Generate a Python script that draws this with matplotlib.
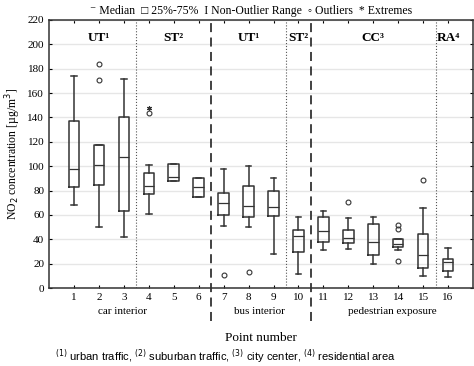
import matplotlib.pyplot as plt

plt.rcParams['font.family'] = ['Liberation Serif', 'DejaVu Serif', 'DejaVu Sans']

points = list(range(1, 17))
q1 = [82.5, 84.7, 63.3, 77.0, 87.7, 74.6, 60.0, 58.4, 59.2, 29.3, 38.1, 36.7, 27.4, 34.0, 16.7, 14.2]
med = [97.9, 100.6, 107.7, 84.1, 91.5, 82.8, 69.9, 67.7, 66.6, 42.8, 47.1, 41.4, 38.1, 36.2, 27.1, 21.7]
q3 = [136.8, 117.0, 140.0, 94.3, 101.7, 89.9, 77.9, 83.9, 79.5, 47.7, 58.6, 47.7, 52.4, 40.0, 44.4, 23.6]
wlo = [68.5, 49.9, 42.2, 61.0, 87.7, 74.6, 51.0, 50.4, 28.0, 11.2, 31.2, 32.3, 19.5, 31.2, 10.1, 9.3]
whi = [173.8, 117.0, 171.6, 100.9, 101.7, 89.9, 97.6, 99.8, 90.7, 58.6, 63.3, 57.3, 58.6, 40.0, 65.5, 32.6]
outliers = [[], [183.7, 171.0], [], [144.0], [], [], [10.7], [12.9], [], [], [],
            [70.2], [], [51.8, 48.5, 22.5], [88.3], []]
extremes = [[], [], [], [147.8], [], [], [], [], [], [], [], [], [], [], [], []]

groups = ['UT¹', 'ST²', 'UT¹', 'ST²', 'CC³', 'RA⁴']
group_x = [2, 5, 8, 10, 13, 16]
exposure = ['car interior', 'bus interior', 'pedestrian exposure']
exposure_x = [2.95, 8.45, 13.75]

fig = plt.figure(figsize=(4.74, 3.66), dpi=100)
ax = fig.add_axes([0.1034, 0.2131, 0.8946, 0.7323])

stats = []
for i in range(len(points)):
    stats.append(dict(med=med[i], q1=q1[i], q3=q3[i], whislo=wlo[i], whishi=whi[i],
                      fliers=outliers[i]))

lc = '#333333'
ax.bxp(stats, positions=points, widths=0.42, patch_artist=False,
       boxprops=dict(color=lc, linewidth=1.1),
       medianprops=dict(color=lc, linewidth=0.9),
       whiskerprops=dict(color=lc, linewidth=1.1),
       capprops=dict(color=lc, linewidth=1.1), capwidths=0.22,
       flierprops=dict(marker='o', markersize=3.5, markerfacecolor='none',
                       markeredgecolor=lc, markeredgewidth=0.8))
for i, ex in enumerate(extremes):
    if ex:
        ax.plot([points[i]] * len(ex), ex, linestyle='none', marker=(6, 2, 0), markersize=3.5,
                color=lc, markeredgewidth=0.8)

ax.set_xlim(0, 17)
ax.set_ylim(0, 220)
ax.set_yticks(range(0, 221, 20))
ax.set_xticks(points)
ax.set_xticklabels([str(p) for p in points])
ax.tick_params(axis='both', labelsize=8, direction='in', length=2.5, top=True, right=True)
ax.yaxis.grid(True, color='#e6e6e6', linewidth=1)
ax.set_axisbelow(True)
for s in ax.spines.values():
    s.set_linewidth(1.1)
    s.set_color('#333333')

for xv in [3.5, 9.5, 15.5]:
    ax.axvline(xv, color='#555555', linestyle=':', linewidth=0.8)
for xv in [6.5, 10.5]:
    ax.plot([xv, xv], [-27, 220], color='#333333', linestyle=(0, (5, 3)), linewidth=1.3,
            clip_on=False)

for g, gx in zip(groups, group_x):
    ax.text(gx, 205, g, ha='center', va='center', fontsize=9.5, fontweight='bold')

for e, ex in zip(exposure, exposure_x):
    ax.text(ex, -19, e, ha='center', va='center', fontsize=8)

ax.set_xlabel('Point number', fontsize=9.5, labelpad=22)
ax.set_ylabel('NO$_2$ concentration [µg/m$^3$]', fontsize=8.5, labelpad=3)

fig.text(0.53, 0.985, '⁻ Median  □ 25%-75%  I Non-Outlier Range  ◦ Outliers  * Extremes',
         ha='center', va='top', fontsize=8.5)
fig.text(0.115, 0.026, '$^{(1)}$ urban traffic, $^{(2)}$ suburban traffic, $^{(3)}$ city center, $^{(4)}$ residential area',
         ha='left', va='center', fontsize=8, family=['Liberation Sans', 'DejaVu Sans'])

fig.savefig('out.png', dpi=100)
